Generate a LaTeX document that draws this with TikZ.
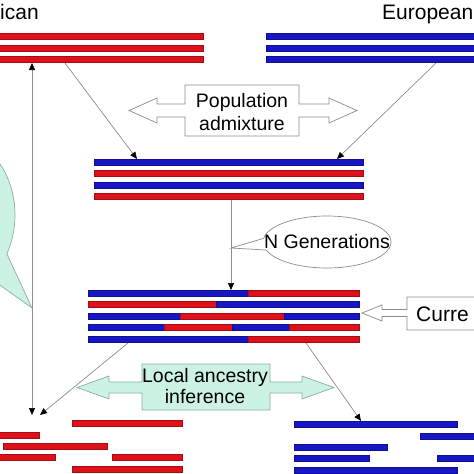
\documentclass[tikz,border=0pt]{standalone}
\usepackage{fontspec}
\setmainfont{Liberation Sans}
\usepackage{tikz}
\usetikzlibrary{calc, arrows.meta}

\definecolor{afred}{RGB}{222,16,26}
\definecolor{eublue}{RGB}{22,22,196}
\definecolor{mint}{RGB}{204,242,228}
\definecolor{lineg}{RGB}{140,140,140}
\definecolor{mintline}{RGB}{140,172,162}

\begin{document}
\begin{tikzpicture}[x=1pt, y=-1pt,
    afr/.style={fill=afred, draw=afred!75!black, line width=0.4pt},
    eur/.style={fill=eublue, draw=eublue!75!black, line width=0.4pt},
    conn/.style={draw=lineg, line width=0.7pt, -{Triangle[black,length=7pt,width=6pt]}},
    callout/.style={draw=lineg, line width=0.7pt, fill=white},
    mintcall/.style={draw=mintline, line width=0.7pt, fill=mint},
    lbl/.style={font=\fontsize{21}{24}\selectfont, anchor=base west, inner sep=0pt},
    txt/.style={font=\fontsize{19.5}{23}\selectfont, anchor=base, inner sep=0pt}]
      \useasboundingbox (0,0) rectangle (474,474);
      \clip (0,0) rectangle (474,474);

      % 1. parental populations
      \node[lbl] (afrlbl) at (0,19) {ican};
      \node[lbl] (eurlbl) at (382,19) {European};
      \foreach \y in {36,47.7,59.4}
        \filldraw[afr] (-2,\y-3) rectangle (203,\y+3);
      \foreach \y in {36,47.7,59.4}
        \filldraw[eur] (266,\y-3) rectangle (476,\y+3);

      % 2. admixed chromosomes
      \filldraw[eur] (94,162.2-3) rectangle (363,162.2+3);
      \filldraw[afr] (94,173.6-3) rectangle (363,173.6+3);
      \filldraw[eur] (94,185-3) rectangle (363,185+3);
      \filldraw[afr] (94,196.4-3) rectangle (363,196.4+3);

      % 3. current generation (mosaic)
      \foreach \xa/\xb/\y/\c in {88/248/293/eur, 248/359/293/afr,
          88/216/304.5/afr, 216/359/304.5/eur,
          88/180/316/eur, 180/284/316/afr, 284/359/316/eur,
          88/164/327.5/eur, 164/232/327.5/afr, 232/289/327.5/eur, 289/359/327.5/afr,
          88/248/339/eur, 248/359/339/afr}
        \filldraw[\c] (\xa,\y-3) rectangle (\xb,\y+3);

      % 4. inferred segments
      \foreach \xa/\xb/\y in {72/182/423, -2/39/435, 3/107/446, -2/55/457, 112/182/457, 72/182/469}
        \filldraw[afr] (\xa,\y-3) rectangle (\xb,\y+3);
      \foreach \xa/\xb/\y in {294/457/424, 420/476/436, 294/387/447, 294/369/458, 437/476/458, 294/457/470}
        \filldraw[eur] (\xa,\y-3) rectangle (\xb,\y+3);

      % 5. connectors
      \coordinate (afrout) at (65,63);
      \coordinate (mixin1) at (137,159);
      \coordinate (eurout) at (436,63);
      \coordinate (mixin2) at (337,159);
      \coordinate (mixout) at (231,200);
      \coordinate (curin) at (231,290);
      \coordinate (curout1) at (128,343);
      \coordinate (afrin) at (40,415);
      \coordinate (curout2) at (306,343);
      \coordinate (eurin) at (361,421);
      \coordinate (gentop) at (32,63);
      \coordinate (genbot) at (32,415);
      \draw[conn] (afrout) -- (mixin1);
      \draw[conn] (eurout) -- (mixin2);
      \draw[conn] (mixout) -- (curin);
      \draw[conn] (curout1) -- (afrin);
      \draw[conn] (curout2) -- (eurin);
      \draw[conn, {Triangle[black,length=7pt,width=6pt]}-{Triangle[black,length=7pt,width=6pt]}] (gentop) -- (genbot);

      % 6. callouts
      \draw[callout] (185,85) -- (299,85) -- (299,104) -- (329,104) -- (329,98) -- (357,110.5)
        -- (329,123) -- (329,117) -- (299,117) -- (299,136) -- (185,136) -- (185,117)
        -- (157,117) -- (157,123) -- (129,110.5) -- (157,98) -- (157,104) -- (185,104) -- cycle;
      \node[txt] (admixa) at (242,107) {Population};
      \node[txt] (admixb) at (242,130) {admixture};

      \coordinate (ngen) at (327,242);
      \draw[callout] ($(ngen)+(188:64 and 26)$) arc[start angle=188, end angle=522, x radius=64, y radius=26]
        -- (231,248) -- cycle;
      \node[txt] (ngenlbl) at (327,248) {N Generations};

      \draw[callout] (407,297) -- (480,297) -- (480,330) -- (407,330) -- (407,316.5) -- (382,316.5)
        -- (382,321) -- (362,313) -- (382,305) -- (382,309.5) -- (407,309.5) -- cycle;
      \node[lbl] (curlbl) at (416,321) {Curre};

      \draw[mintcall] (142,364) -- (270,364) -- (270,382) -- (302,382) -- (302,376) -- (334,387.5)
        -- (302,399) -- (302,393) -- (270,393) -- (270,410) -- (142,410) -- (142,393)
        -- (109,393) -- (109,399) -- (77,387.5) -- (109,376) -- (109,382) -- (142,382) -- cycle;
      \node[txt] (laia) at (205,382) {Local ancestry};
      \node[txt] (laib) at (205,403) {inference};

      \coordinate (bub) at (-50,215);
      \draw[mintcall] ($(bub)+(52:65 and 80)$) arc[start angle=52, end angle=389, x radius=65, y radius=80]
        -- (32,308) -- cycle;
\end{tikzpicture}
\end{document}
